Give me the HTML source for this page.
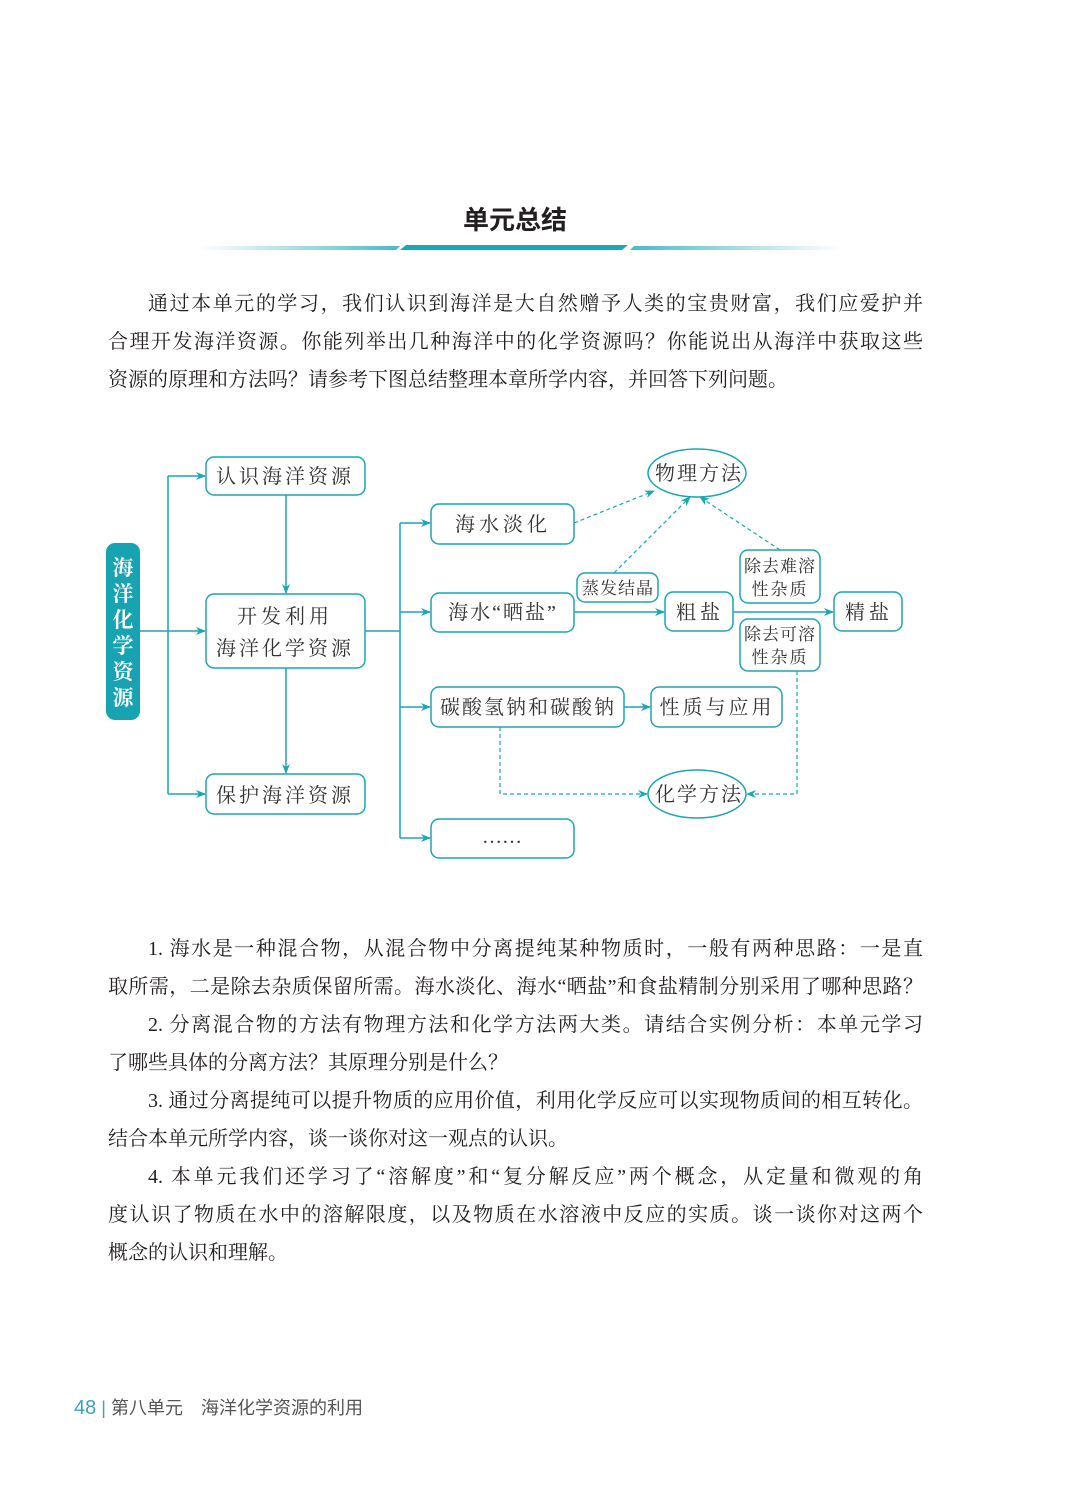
<!DOCTYPE html>
<html><head><meta charset="utf-8">
<style>
html,body{margin:0;padding:0;background:#fff;}
body{width:1065px;height:1508px;position:relative;overflow:hidden;font-family:"Liberation Serif","Noto Serif CJK SC","Noto Sans CJK SC",serif;color:#231f20;}
.title{position:absolute;left:0;width:1030px;text-align:center;top:200px;font-family:"Liberation Sans","Noto Sans CJK SC",sans-serif;font-weight:bold;font-size:26px;color:#231f20;}
.p{position:absolute;left:108px;width:815px;font-size:20px;}
.p div{height:38px;line-height:38px;white-space:nowrap;text-align:justify;text-align-last:justify;}
.p div.l{text-align-last:left;}
.foot{position:absolute;top:1394px;left:74px;font-family:"Liberation Sans","Noto Sans CJK SC",sans-serif;font-size:18px;color:#555;}
.foot .n{color:#3aa0c8;font-size:20px;}
svg text{font-family:"Liberation Serif","Noto Serif CJK SC",serif;fill:#333;}
</style></head><body>
<div class="title">单元总结</div>
<svg style="position:absolute;left:0;top:0" width="1065" height="260">
<defs>
<linearGradient id="gl" x1="0" x2="1"><stop offset="0" stop-color="#1aaab8" stop-opacity="0"/><stop offset="1" stop-color="#1aaab8" stop-opacity="0.8"/></linearGradient>
<linearGradient id="gr" x1="0" x2="1"><stop offset="0" stop-color="#1aaab8" stop-opacity="0.8"/><stop offset="1" stop-color="#1aaab8" stop-opacity="0"/></linearGradient>
</defs>
<polygon points="200,246 400,246 396,250 200,250" fill="url(#gl)"/>
<polygon points="406,245 628,245 622,250 400,250" fill="#17a9b6"/>
<polygon points="634,246 840,246 840,250 630,250" fill="url(#gr)"/>
</svg>
<div class="p" style="top:285px">
<div style="padding-left:40px">通过本单元的学习，我们认识到海洋是大自然赠予人类的宝贵财富，我们应爱护并</div>
<div>合理开发海洋资源。你能列举出几种海洋中的化学资源吗？你能说出从海洋中获取这些</div>
<div class="l">资源的原理和方法吗？请参考下图总结整理本章所学内容，并回答下列问题。</div>
</div>
<svg style="position:absolute;left:0;top:0" width="1065" height="900">
<defs>
<marker id="a" viewBox="0 0 10 10" refX="9" refY="5" markerWidth="10" markerHeight="10" markerUnits="userSpaceOnUse" orient="auto"><path d="M0,1 L10,5 L0,9 L3,5 Z" fill="#1aa6b5"/></marker>
</defs>
<g fill="none" stroke="#1aa6b5" stroke-width="1.5">
<rect x="106" y="543" width="34" height="177" rx="9" fill="#17a3b2" stroke="none"/>
<rect x="206" y="457" width="159" height="38" rx="8"/>
<rect x="206" y="594" width="159" height="74" rx="8"/>
<rect x="206" y="774" width="159" height="40" rx="8"/>
<rect x="431" y="504" width="143" height="40" rx="8"/>
<rect x="431" y="593" width="143" height="39" rx="8"/>
<rect x="431" y="687" width="193" height="40" rx="8"/>
<rect x="431" y="819" width="143" height="39" rx="8"/>
<rect x="577" y="573" width="81" height="29" rx="8"/>
<rect x="665" y="592" width="68" height="39" rx="8"/>
<rect x="834" y="592" width="68" height="39" rx="8"/>
<rect x="740" y="550" width="80" height="53" rx="8"/>
<rect x="740" y="619" width="80" height="52" rx="8"/>
<rect x="651" y="687" width="131" height="40" rx="8"/>
<ellipse cx="697" cy="473" rx="49" ry="24"/>
<ellipse cx="697" cy="794" rx="49" ry="24"/>
<path d="M168,476 V794"/>
<path d="M168,476 H205" marker-end="url(#a)"/>
<path d="M168,794 H205" marker-end="url(#a)"/>
<path d="M140,631 H205" marker-end="url(#a)"/>
<path d="M286,495 V593" marker-end="url(#a)"/>
<path d="M286,668 V773" marker-end="url(#a)"/>
<path d="M365,631 H400 M400,523 V838"/>
<path d="M400,523 H430" marker-end="url(#a)"/>
<path d="M400,612 H430" marker-end="url(#a)"/>
<path d="M400,707 H430" marker-end="url(#a)"/>
<path d="M400,838 H430" marker-end="url(#a)"/>
<path d="M574,612 H664" marker-end="url(#a)"/>
<path d="M733,612 H833" marker-end="url(#a)"/>
<path d="M624,707 H650" marker-end="url(#a)"/>
<g stroke-dasharray="4,3" stroke-width="1.2">
<path d="M574,523 L654,491" marker-end="url(#a)"/>
<path d="M614,573 L690,497" marker-end="url(#a)"/>
<path d="M780,550 L700,497" marker-end="url(#a)"/>
<path d="M797,671 V794 H747" marker-end="url(#a)"/>
<path d="M500,727 V794 H647" marker-end="url(#a)"/>
</g>
</g>
<g font-size="20" text-anchor="middle">
<text x="285" y="483" letter-spacing="3">认识海洋资源</text>
<text x="285" y="623" letter-spacing="4">开发利用</text>
<text x="285" y="655" letter-spacing="3">海洋化学资源</text>
<text x="285" y="802" letter-spacing="3">保护海洋资源</text>
<text x="503" y="531" letter-spacing="4">海水淡化</text>
<text x="503" y="619" letter-spacing="2">海水“晒盐”</text>
<text x="528" y="714" letter-spacing="2">碳酸氢钠和碳酸钠</text>
<text x="502" y="843">……</text>
<text x="699" y="480" letter-spacing="2">物理方法</text>
<text x="699" y="801" letter-spacing="2">化学方法</text>
<text x="700" y="619" letter-spacing="4">粗盐</text>
<text x="869" y="619" letter-spacing="4">精盐</text>
<text x="717" y="714" letter-spacing="3">性质与应用</text>
</g>
<g font-size="17" text-anchor="middle">
<text x="618" y="594" letter-spacing="1">蒸发结晶</text>
<text x="780" y="572" letter-spacing="1">除去难溶</text>
<text x="780" y="595" letter-spacing="2">性杂质</text>
<text x="780" y="640" letter-spacing="1">除去可溶</text>
<text x="780" y="663" letter-spacing="2">性杂质</text>
</g>
<g font-size="21" text-anchor="middle" font-weight="bold" style="font-family:'Liberation Sans','Noto Sans CJK SC',sans-serif" >
<text x="123" y="575" style="fill:#fff">海</text>
<text x="123" y="601" style="fill:#fff">洋</text>
<text x="123" y="627" style="fill:#fff">化</text>
<text x="123" y="653" style="fill:#fff">学</text>
<text x="123" y="679" style="fill:#fff">资</text>
<text x="123" y="705" style="fill:#fff">源</text>
</g>
</svg>
<div class="p" style="top:930px">
<div style="padding-left:40px">1. 海水是一种混合物，从混合物中分离提纯某种物质时，一般有两种思路：一是直</div>
<div>取所需，二是除去杂质保留所需。海水淡化、海水“晒盐”和食盐精制分别采用了哪种思路？</div>
<div style="padding-left:40px">2. 分离混合物的方法有物理方法和化学方法两大类。请结合实例分析：本单元学习</div>
<div class="l">了哪些具体的分离方法？其原理分别是什么？</div>
<div style="padding-left:40px">3. 通过分离提纯可以提升物质的应用价值，利用化学反应可以实现物质间的相互转化。</div>
<div class="l">结合本单元所学内容，谈一谈你对这一观点的认识。</div>
<div style="padding-left:40px">4. 本单元我们还学习了“溶解度”和“复分解反应”两个概念，从定量和微观的角</div>
<div>度认识了物质在水中的溶解限度，以及物质在水溶液中反应的实质。谈一谈你对这两个</div>
<div class="l">概念的认识和理解。</div>
</div>
<div class="foot"><span class="n">48</span> <span style="color:#3aa0c8">|</span> 第八单元　海洋化学资源的利用</div>
</body></html>
